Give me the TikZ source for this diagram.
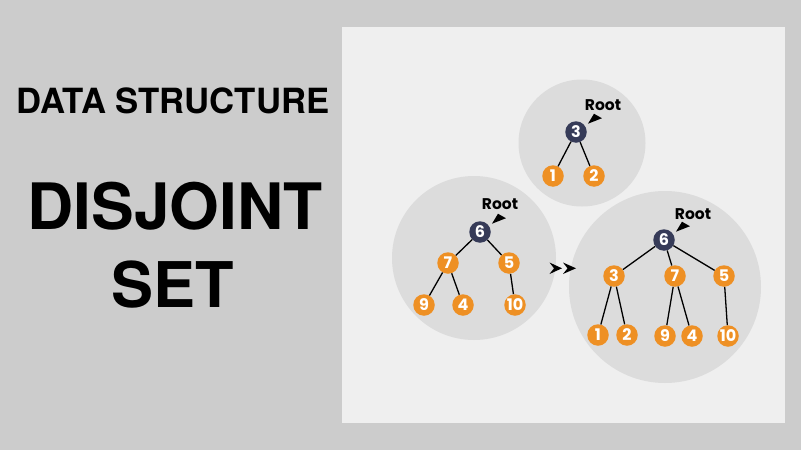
\documentclass[tikz,border=0pt]{standalone}
\usepackage{fontspec}
\newfontfamily\titlefont{TeX Gyre Heros}
\newfontfamily\treefont{Poppins}
\definecolor{bggray}{HTML}{CCCCCC}
\definecolor{paper}{HTML}{EFEFEF}
\definecolor{setgray}{HTML}{DCDCDC}
\definecolor{rootblue}{HTML}{363B58}
\definecolor{elemorange}{HTML}{EE9024}
\tikzset{
  rootnode/.style={circle, fill=rootblue, text=white, minimum size=21.5pt, inner sep=0pt,
    font=\treefont\bfseries\fontsize{16}{16}\selectfont},
  elemnode/.style={rootnode, fill=elemorange},
  rootlabel/.style={font=\treefont\bfseries\fontsize{15.5}{15.5}\selectfont},
  titletext/.style={font=\titlefont\bfseries\fontsize{#1}{#1}\selectfont}
}
\newcommand{\rootmark}[1]{\fill ([shift={(3,-2)}]#1.35) -- ++(6,-10) -- ++(8,4.5) -- cycle;}
\begin{document}
\begin{tikzpicture}[x=1pt,y=-1pt]
  \fill[bggray] (0,0) rectangle (801,450);
  \fill[paper] (342,27) rectangle (785,423);
  \fill[setgray] (582,143) circle (63.5);
  \fill[setgray] (474,258) circle (82);
  \fill[setgray] (665,287) circle (96);

  \node[titletext=34.7] (ds) at (173,100.5) {DATA STRUCTURE};
  \node[titletext=64] (dj) at (175,206.5) {DISJOINT};
  \node[titletext=63] (st) at (173,285) {SET};

  % set {3,1,2}
  \draw
    (576,132) node[rootnode] (a3){3}
    (553,176) node[elemnode] (a1){1}
    (594,176) node[elemnode] (a2){2};
  \node[rootlabel] (ra) at (603,105) {Root};
  \rootmark{a3}

  % set {6,7,5,9,4,10}
  \draw
    (480,232) node[rootnode] (b6){6}
    (448,263) node[elemnode] (b7){7}
    (509,263) node[elemnode] (b5){5}
    (424,305) node[elemnode] (b9){9}
    (463,305) node[elemnode] (b4){4}
    (515,305) node[elemnode] (b10){10};
  \node[rootlabel] (rb) at (500,204) {Root};
  \rootmark{b6}

  % union
  \draw
    (664,240) node[rootnode] (c6){6}
    (614,276) node[elemnode] (c3){3}
    (675,276) node[elemnode] (c7){7}
    (724,276) node[elemnode] (c5){5}
    (598,335) node[elemnode] (c1){1}
    (627,335) node[elemnode] (c2){2}
    (665,336) node[elemnode] (c9){9}
    (692,336) node[elemnode] (c4){4}
    (728,336) node[elemnode] (c10){10};
  \node[rootlabel] (rc) at (693,214) {Root};
  \rootmark{c6}

  \fill (549.5,262.5) -- (562,268.3) -- (549.5,274) -- (554,268.3) -- cycle;
  \fill (563,262.5) -- (576,268.3) -- (563,274) -- (567.5,268.3) -- cycle;

  \begin{scope}[line width=1.3pt]
    \draw (a3) to (a1);
    \draw (a3) to (a2);
    \draw (b6) to (b7);
    \draw (b6) to (b5);
    \draw (b7) to (b9);
    \draw (b7) to (b4);
    \draw (b5) to (b10);
    \draw (c6) to (c3);
    \draw (c6) to (c7);
    \draw (c6) to (c5);
    \draw (c3) to (c1);
    \draw (c3) to (c2);
    \draw (c7) to (c9);
    \draw (c7) to (c4);
    \draw (c5) to (c10);
  \end{scope}
\end{tikzpicture}
\end{document}
